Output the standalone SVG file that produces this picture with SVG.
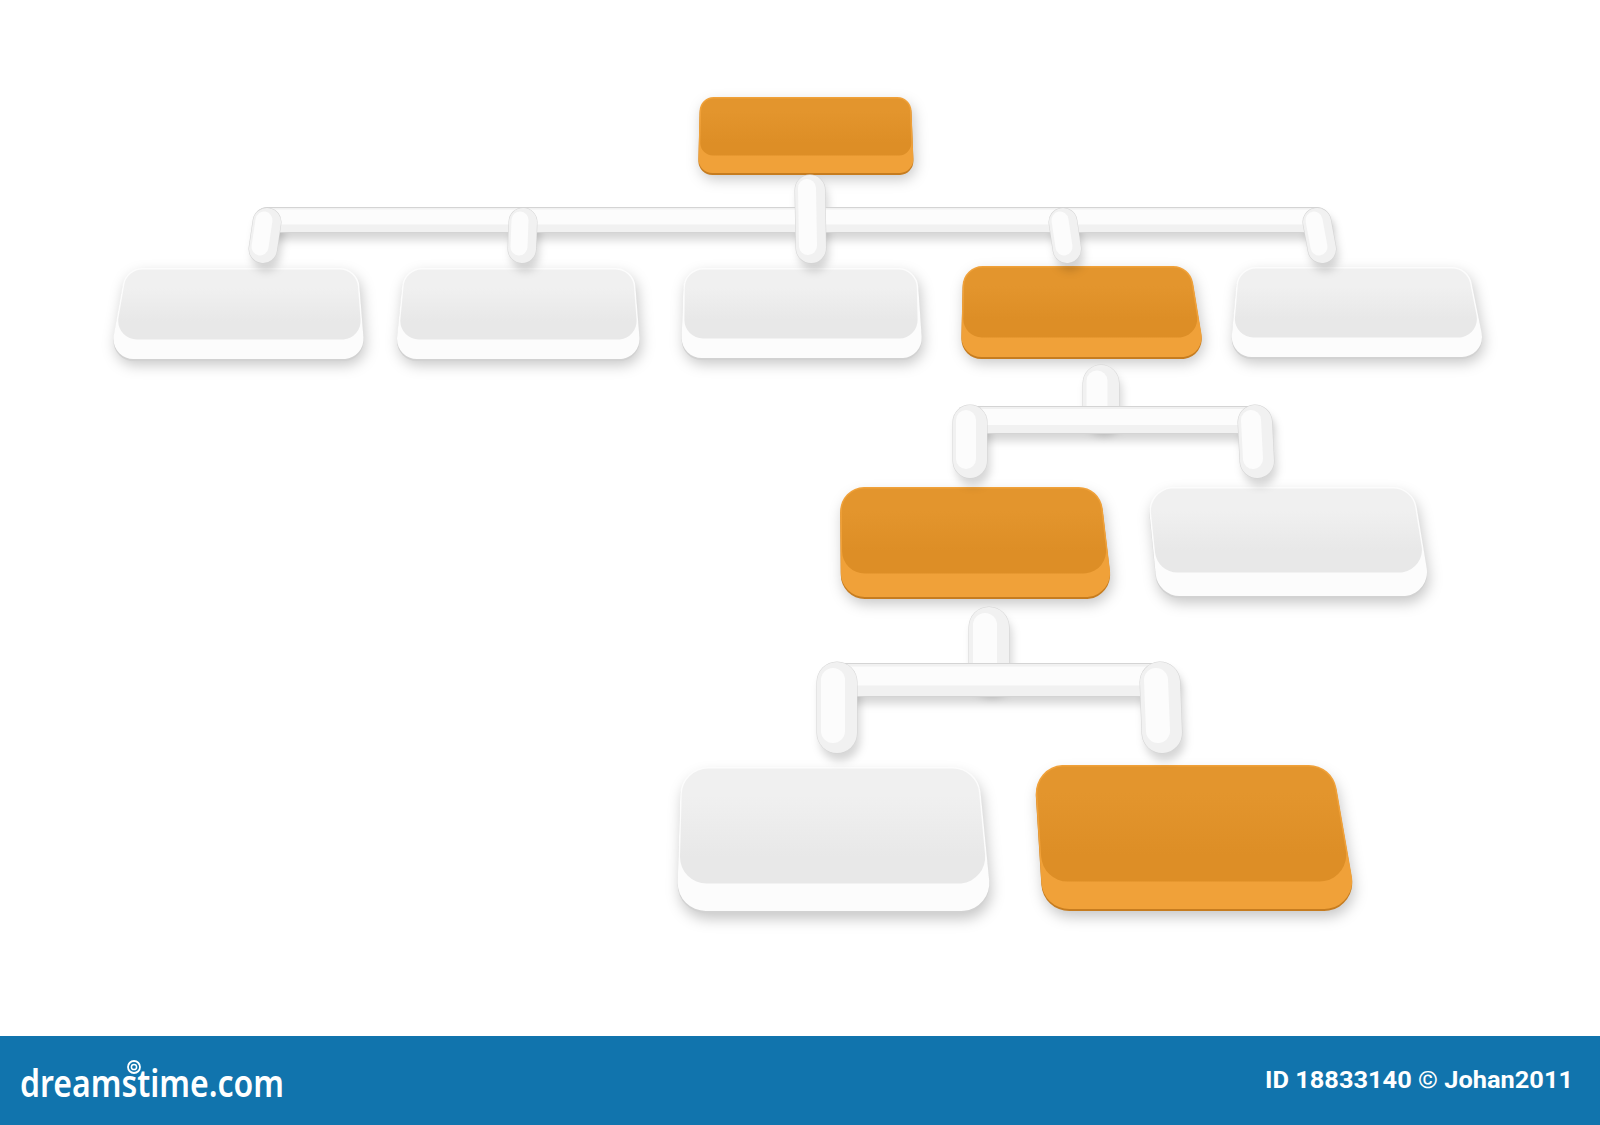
<svg xmlns="http://www.w3.org/2000/svg" xmlns:xlink="http://www.w3.org/1999/xlink" width="1600" height="1125" viewBox="0 0 1600 1125">
<defs>
<style>
polygon{stroke-linejoin:round}
.shadow{fill:#000;stroke:#000;opacity:.22}
.white .edge{fill:#d2d2d2;stroke:#d2d2d2}
.white .lip{fill:#fcfcfc;stroke:#fcfcfc}
.white .face{fill:url(#gW);stroke:url(#gW)}
.orange .edge{fill:#c67c1f;stroke:#c67c1f}
.orange .lip{fill:#f0a139;stroke:#f0a139}
.orange .face{fill:url(#gO);stroke:url(#gO)}
.tube use{fill:none;stroke-linecap:round}
.t-sh{stroke:#000;opacity:.16}
.t-edge{stroke:#d4d4d4}
.t-body{stroke:#f1f1f1}
.t-light{stroke:#fcfcfc}
.lbl{fill:#fff}
</style>
<linearGradient id="gW" x1="0" y1="0" x2="0" y2="1"><stop offset="0" stop-color="#f0f0f0"/><stop offset="1" stop-color="#e8e8e8"/></linearGradient>
<linearGradient id="gO" x1="0" y1="0" x2="0" y2="1"><stop offset="0" stop-color="#e3952d"/><stop offset="1" stop-color="#dd8e26"/></linearGradient>
<filter id="blur" x="-20%" y="-40%" width="140%" height="180%"><feGaussianBlur stdDeviation="7"/></filter>
<filter id="blurS" x="-10%" y="-40%" width="120%" height="180%"><feGaussianBlur stdDeviation="4"/></filter>
<path id="c1bar" d="M267,220 L1317,220"/>
<path id="c1d1" d="M267,222 L263,249"/>
<path id="c1d2" d="M523,222 L522,249"/>
<path id="c1d4" d="M1063,222 L1067,249"/>
<path id="c1d5" d="M1317,222 L1322,249"/>
<path id="c1st" d="M810,190 L811,248"/>
<path id="c2st" d="M1101,383 L1101,410"/>
<path id="c2bar" d="M970,420 L1255,420"/>
<path id="c2d1" d="M970,422 L970,461"/>
<path id="c2d2" d="M1255,422 L1257,461"/>
<path id="c3st" d="M989,627 L989,670"/>
<path id="c3bar" d="M837,680 L1160,680"/>
<path id="c3d1" d="M837,682 L837,733"/>
<path id="c3d2" d="M1160,682 L1162,733"/>
</defs>
<rect width="1600" height="1125" fill="#ffffff"/>

<g id="node-shadows" filter="url(#blur)">
<polygon class="shadow" stroke-width="28" transform="translate(2,6)" points="713.6,111 897.5,111 899.4,159 712.4,159"/>
<polygon class="shadow" stroke-width="40" transform="translate(2,6)" points="142.5,288 339.5,288 343.5,339 133.5,339"/>
<polygon class="shadow" stroke-width="40" transform="translate(2,6)" points="422,288 615.5,288 619.5,339 417,339"/>
<polygon class="shadow" stroke-width="40" transform="translate(2,6)" points="703.3,288 898.3,288 901.7,338 701.7,338"/>
<polygon class="shadow" stroke-width="40" transform="translate(2,6)" points="982.6,286 1173.3,286 1181.7,337 981.4,337"/>
<polygon class="shadow" stroke-width="40" transform="translate(2,6)" points="1256.2,287 1452,287 1462,337 1251.8,337"/>
<polygon class="shadow" stroke-width="48" transform="translate(2,7)" points="864.2,511 1078.8,511 1086.1,573 864.8,573"/>
<polygon class="shadow" stroke-width="48" transform="translate(2,7)" points="1173.4,511 1393,511 1403,572 1179.6,572"/>
<polygon class="shadow" stroke-width="56" transform="translate(2,8)" points="708.2,795 952.7,795 961.3,883 705.7,883"/>
<polygon class="shadow" stroke-width="56" transform="translate(2,8)" points="1063.8,793 1308.9,793 1324.2,881 1069.3,881"/>
</g>

<g id="node-top" class="orange">
<polygon class="edge" stroke-width="28" transform="translate(0,2)" points="713.6,111 897.5,111 899.4,159 712.4,159"/>
<polygon class="lip" stroke-width="28" points="713.6,111 897.5,111 899.4,159 712.4,159"/>
<polygon class="face" stroke-width="25" points="713.6,111 897.5,111 898.8,143 712.8,143"/>
</g>
<g id="node-r1-1" class="white">
<polygon class="edge" stroke-width="40" transform="translate(0,2)" points="142.5,288 339.5,288 343.5,339 133.5,339"/>
<polygon class="lip" stroke-width="40" points="142.5,288 339.5,288 343.5,339 133.5,339"/>
<polygon class="face" stroke-width="37" points="142.5,288 339.5,288 342.1,321 136.7,321"/>
</g>
<g id="node-r1-2" class="white">
<polygon class="edge" stroke-width="40" transform="translate(0,2)" points="422,288 615.5,288 619.5,339 417,339"/>
<polygon class="lip" stroke-width="40" points="422,288 615.5,288 619.5,339 417,339"/>
<polygon class="face" stroke-width="37" points="422,288 615.5,288 618.1,321 418.8,321"/>
</g>
<g id="node-r1-3" class="white">
<polygon class="edge" stroke-width="40" transform="translate(0,2)" points="703.3,288 898.3,288 901.7,338 701.7,338"/>
<polygon class="lip" stroke-width="40" points="703.3,288 898.3,288 901.7,338 701.7,338"/>
<polygon class="face" stroke-width="37" points="703.3,288 898.3,288 899.1,320 702.9,320"/>
</g>
<g id="node-r1-4" class="orange">
<polygon class="edge" stroke-width="40" transform="translate(0,2)" points="982.6,286 1173.3,286 1181.7,337 981.4,337"/>
<polygon class="lip" stroke-width="40" points="982.6,286 1173.3,286 1181.7,337 981.4,337"/>
<polygon class="face" stroke-width="37" points="982.6,286 1173.3,286 1178.7,319 981.8,319"/>
</g>
<g id="node-r1-5" class="white">
<polygon class="edge" stroke-width="40" transform="translate(0,2)" points="1256.2,287 1452,287 1462,337 1251.8,337"/>
<polygon class="lip" stroke-width="40" points="1256.2,287 1452,287 1462,337 1251.8,337"/>
<polygon class="face" stroke-width="37" points="1256.2,287 1452,287 1458.4,319 1253.4,319"/>
</g>
<g id="node-r2-1" class="orange">
<polygon class="edge" stroke-width="48" transform="translate(0,2)" points="864.2,511 1078.8,511 1086.1,573 864.8,573"/>
<polygon class="lip" stroke-width="48" points="864.2,511 1078.8,511 1086.1,573 864.8,573"/>
<polygon class="face" stroke-width="45" points="864.2,511 1078.8,511 1083.6,551 864.6,551"/>
</g>
<g id="node-r2-2" class="white">
<polygon class="edge" stroke-width="48" transform="translate(0,2)" points="1173.4,511 1393,511 1403,572 1179.6,572"/>
<polygon class="lip" stroke-width="48" points="1173.4,511 1393,511 1403,572 1179.6,572"/>
<polygon class="face" stroke-width="45" points="1173.4,511 1393,511 1399.4,550 1177.4,550"/>
</g>
<g id="node-r3-1" class="white">
<polygon class="edge" stroke-width="56" transform="translate(0,2)" points="708.2,795 952.7,795 961.3,883 705.7,883"/>
<polygon class="lip" stroke-width="56" points="708.2,795 952.7,795 961.3,883 705.7,883"/>
<polygon class="face" stroke-width="53" points="708.2,795 952.7,795 958.7,857 706.5,857"/>
</g>
<g id="node-r3-2" class="orange">
<polygon class="edge" stroke-width="56" transform="translate(0,2)" points="1063.8,793 1308.9,793 1324.2,881 1069.3,881"/>
<polygon class="lip" stroke-width="56" points="1063.8,793 1308.9,793 1324.2,881 1069.3,881"/>
<polygon class="face" stroke-width="53" points="1063.8,793 1308.9,793 1319.7,855 1067.6,855"/>
</g>

<g id="connectors" class="tube">
<g filter="url(#blurS)" transform="translate(3,8)">
<use href="#c1bar" class="t-sh" stroke-width="24"/>
<use href="#c1d1" class="t-sh" stroke-width="28"/>
<use href="#c1d2" class="t-sh" stroke-width="28"/>
<use href="#c1d4" class="t-sh" stroke-width="28"/>
<use href="#c1d5" class="t-sh" stroke-width="28"/>
<use href="#c1st" class="t-sh" stroke-width="30"/>
<use href="#c2st" class="t-sh" stroke-width="36"/>
<use href="#c2bar" class="t-sh" stroke-width="26"/>
<use href="#c2d1" class="t-sh" stroke-width="34"/>
<use href="#c2d2" class="t-sh" stroke-width="34"/>
<use href="#c3st" class="t-sh" stroke-width="40"/>
<use href="#c3bar" class="t-sh" stroke-width="32"/>
<use href="#c3d1" class="t-sh" stroke-width="40"/>
<use href="#c3d2" class="t-sh" stroke-width="40"/>
</g>
<use href="#c1bar" class="t-edge" stroke-width="26"/>
<use href="#c1bar" class="t-body" stroke-width="24"/>
<use href="#c1bar" class="t-light" stroke-width="15" transform="translate(0,-3)"/>
<use href="#c1d1" class="t-edge" stroke-width="29"/>
<use href="#c1d1" class="t-body" stroke-width="28"/>
<use href="#c1d1" class="t-light" stroke-width="17" transform="translate(-3,-2)"/>
<use href="#c1d2" class="t-edge" stroke-width="29"/>
<use href="#c1d2" class="t-body" stroke-width="28"/>
<use href="#c1d2" class="t-light" stroke-width="17" transform="translate(-3,-2)"/>
<use href="#c1d4" class="t-edge" stroke-width="29"/>
<use href="#c1d4" class="t-body" stroke-width="28"/>
<use href="#c1d4" class="t-light" stroke-width="17" transform="translate(-3,-2)"/>
<use href="#c1d5" class="t-edge" stroke-width="29"/>
<use href="#c1d5" class="t-body" stroke-width="28"/>
<use href="#c1d5" class="t-light" stroke-width="17" transform="translate(-3,-2)"/>
<use href="#c1st" class="t-edge" stroke-width="31"/>
<use href="#c1st" class="t-body" stroke-width="30"/>
<use href="#c1st" class="t-light" stroke-width="18" transform="translate(-3,-2)"/>
<use href="#c2st" class="t-edge" stroke-width="37"/>
<use href="#c2st" class="t-body" stroke-width="36"/>
<use href="#c2st" class="t-light" stroke-width="21" transform="translate(-4,-2)"/>
<use href="#c2bar" class="t-edge" stroke-width="28"/>
<use href="#c2bar" class="t-body" stroke-width="26"/>
<use href="#c2bar" class="t-light" stroke-width="16" transform="translate(0,-3)"/>
<use href="#c2d1" class="t-edge" stroke-width="35"/>
<use href="#c2d1" class="t-body" stroke-width="34"/>
<use href="#c2d1" class="t-light" stroke-width="20" transform="translate(-4,-2)"/>
<use href="#c2d2" class="t-edge" stroke-width="35"/>
<use href="#c2d2" class="t-body" stroke-width="34"/>
<use href="#c2d2" class="t-light" stroke-width="20" transform="translate(-4,-2)"/>
<use href="#c3st" class="t-edge" stroke-width="41"/>
<use href="#c3st" class="t-body" stroke-width="40"/>
<use href="#c3st" class="t-light" stroke-width="24" transform="translate(-4,-2)"/>
<use href="#c3bar" class="t-edge" stroke-width="34"/>
<use href="#c3bar" class="t-body" stroke-width="32"/>
<use href="#c3bar" class="t-light" stroke-width="19" transform="translate(0,-4)"/>
<use href="#c3d1" class="t-edge" stroke-width="41"/>
<use href="#c3d1" class="t-body" stroke-width="40"/>
<use href="#c3d1" class="t-light" stroke-width="24" transform="translate(-4,-2)"/>
<use href="#c3d2" class="t-edge" stroke-width="41"/>
<use href="#c3d2" class="t-body" stroke-width="40"/>
<use href="#c3d2" class="t-light" stroke-width="24" transform="translate(-4,-2)"/>
</g>

<g id="footer">
<rect x="0" y="1036" width="1600" height="89" fill="#1174ad"/>
<text class="lbl" x="20" y="1097" font-family="'Noto Sans', 'Open Sans', sans-serif" font-weight="600" font-size="37" textLength="264" lengthAdjust="spacingAndGlyphs">dreamstime.com</text>
<circle cx="134" cy="1067" r="6" fill="none" stroke="#fff" stroke-width="1.8"/>
<circle cx="134" cy="1067" r="2.6" fill="none" stroke="#fff" stroke-width="1.5"/>
<text class="lbl" x="1265" y="1088" font-family="Roboto, 'Liberation Sans', sans-serif" font-weight="700" font-size="23" textLength="308" lengthAdjust="spacingAndGlyphs">ID 18833140 © Johan2011</text>
</g>
</svg>
